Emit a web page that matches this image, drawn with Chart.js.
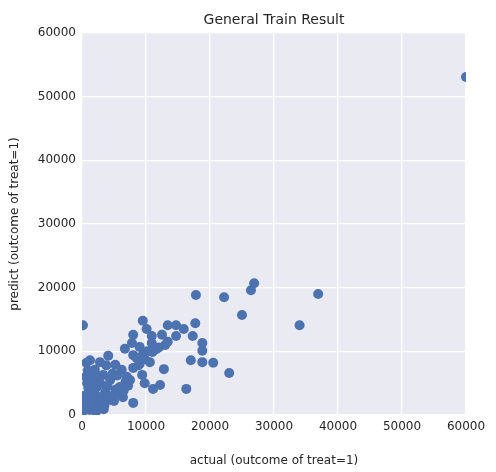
<!DOCTYPE html>
<html>
<head>
<meta charset="utf-8">
<script src="https://cdn.jsdelivr.net/npm/chart.js@4"></script>
<style>
html,body{margin:0;padding:0;background:#fff;}
#wrap{width:496px;height:472px;}
</style>
</head>
<body>
<div id="wrap"><canvas id="c"></canvas></div>
<script>
const actual = [60000, 17800, 22200, 26400, 26900, 25000, 34000, 36900, 9500, 13400, 14700, 17700, 10100, 8000, 12500, 15900, 14700, 17300, 10900, 18800, 18800, 17000, 18800, 20500, 23000, 16300, 12800, 12200, 11100, 9800, 8000, 6400, 150,
  6700, 7800, 9000, 10900, 13000, 13400, 8000, 10600, 9500, 4100, 1250, 2800, 5200, 6200, 8000, 9400, 3300, 2000, 4400, 7500, 5900, 2300, 800, 3600, 900, 2300, 4400, 1200, 500,
  300, 600, 1000, 1500, 1800, 2500, 3000, 3800, 4800, 5500, 7000, 8500, 9000, 10200, 11500, 12000, 700, 1400, 2100, 2700, 3200, 4000, 4600, 5300, 6000, 6800, 100, 400, 900, 1600, 2200, 3500, 5000, 6500, 7200, 8800, 9800, 11000, 11800, 1100, 1900, 2600, 3400];
const predict = [53100, 18850, 18500, 19600, 20700, 15700, 14100, 19000, 14800, 14100, 14100, 14400, 13500, 12600, 12600, 13500, 12400, 12400, 12400, 11300, 10100, 8600, 8300, 8200, 6600, 4100, 7200, 4700, 4100, 5000, 1900, 2800, 14100,
  10400, 11300, 10700, 11300, 11000, 11500, 9400, 8300, 9400, 9300, 8600, 8300, 7900, 7100, 7400, 6300, 6300, 7100, 5500, 5500, 4400, 4400, 5000, 3500, 2400, 1900, 2400, 800, 1300,
  3000, 6000, 4200, 3500, 6800, 5800, 4800, 7800, 6500, 6200, 6000, 9000, 8000, 10000, 10300, 10600, 8200, 2000, 3200, 1200, 2600, 4500, 3000, 4000, 3300, 5200, 500, 1800, 7000, 5600, 500, 1500, 2200, 3800, 4600, 7800, 8800, 9900, 10500, 3800, 4900, 5400, 900];
const xTicks = [0, 10000, 20000, 30000, 40000, 50000, 60000];
const yTicks = [0, 10000, 20000, 30000, 40000, 50000, 60000];

const points = actual.map((v, i) => ({ x: v, y: predict[i] }));
const font = { family: "DejaVu Sans", size: 12 };

const bgPlugin = {
  id: "bg",
  beforeDraw(chart) {
    const { ctx, chartArea: a } = chart;
    ctx.save();
    ctx.fillStyle = "#EAEAF2";
    ctx.fillRect(a.left, a.top, a.right - a.left, a.bottom - a.top);
    ctx.fillStyle = "#262626";
    ctx.font = "14px DejaVu Sans";
    ctx.textAlign = "center";
    ctx.textBaseline = "bottom";
    ctx.fillText("General Train Result", (a.left + a.right) / 2, a.top - 6);
    ctx.restore();
  }
};

new Chart(document.getElementById("c"), {
  type: "scatter",
  data: {
    datasets: [{
      data: points,
      backgroundColor: "#4C72B0",
      borderWidth: 0,
      pointRadius: 5,
      pointHoverRadius: 5,
      clip: 0
    }]
  },
  plugins: [bgPlugin],
  options: {
    responsive: true,
    maintainAspectRatio: false,
    animation: false,
    layout: { padding: { top: 33, right: 30, left: 4, bottom: 0 } },
    plugins: { legend: { display: false }, tooltip: { enabled: false } },
    scales: {
      x: {
        min: 0, max: 60000,
        afterBuildTicks: s => { s.ticks = xTicks.map(v => ({ value: v })); },
        afterFit: s => { s.height = 57; },
        grid: { color: "#ffffff", lineWidth: 1.2, drawTicks: false },
        border: { display: false },
        ticks: { color: "#262626", font, padding: 5, maxRotation: 0, callback: v => String(v) },
        title: { display: true, text: "actual (outcome of treat=1)", color: "#262626", font, padding: { top: 0 } }
      },
      y: {
        min: 0, max: 60000,
        afterBuildTicks: s => { s.ticks = yTicks.map(v => ({ value: v })); },
        afterFit: s => { s.width = 78; },
        grid: { color: "#ffffff", lineWidth: 1.2, drawTicks: false },
        border: { display: false },
        ticks: { color: "#262626", font, padding: 6, callback: v => String(v) },
        title: { display: true, text: "predict (outcome of treat=1)", color: "#262626", font, padding: { bottom: 0 } }
      }
    }
  }
});
</script>
</body>
</html>
